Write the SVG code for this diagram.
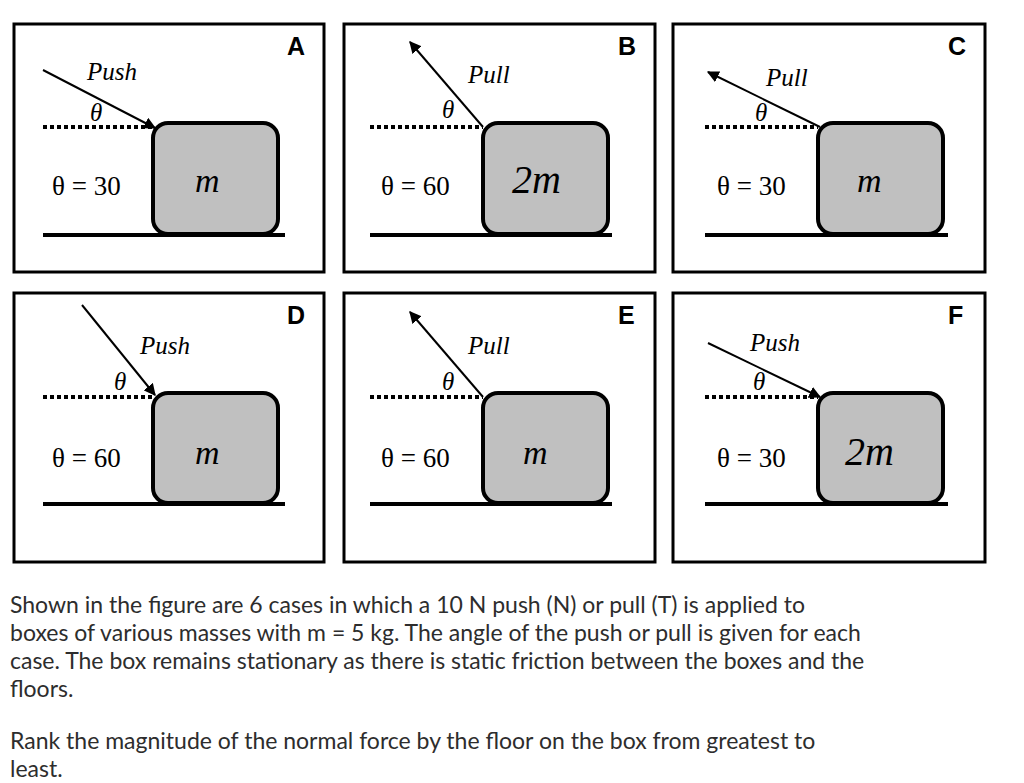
<svg xmlns="http://www.w3.org/2000/svg" width="1024" height="783" viewBox="0 0 1024 783">
<style>
.fr{fill:#fff;stroke:#000;stroke-width:3}
.bx{fill:#c0c0c0;stroke:#000;stroke-width:4}
.fl{stroke:#000;stroke-width:4}
.dt{stroke:#000;stroke-width:4;stroke-dasharray:4 3}
.ar{stroke:#000;stroke-width:2;marker-end:url(#ah)}
.m{font-family:"Liberation Serif",serif;font-style:italic;font-size:25px}
.big{font-size:34px}
.bg2{font-size:40px;font-style:italic}
.eq{font-family:"Liberation Serif",serif;font-size:27px}
.lt{font-family:"Liberation Sans",sans-serif;font-weight:bold;font-size:25px}
.tx{font-family:Lato,"Liberation Sans",sans-serif;font-size:23px;fill:#2d2d2d}
</style>
<defs><marker id="ah" viewBox="0 0 10 10" refX="9" refY="5" markerWidth="6" markerHeight="6" orient="auto"><path d="M0,0L10,5L0,10z"/></marker></defs>
<rect width="1024" height="783" fill="#fff"/>
<g id="panelA"><rect class="fr" x="14" y="24" width="310" height="248"/><rect class="bx" x="153" y="123" width="125" height="111" rx="15"/><line class="fl" x1="43" y1="235" x2="285" y2="235"/><line class="dt" x1="43" y1="127" x2="153" y2="127"/><text class="m" x="87" y="80">Push</text><text class="m" x="90" y="121">θ</text><text class="eq" x="52" y="195">θ = 30</text><text class="m big" x="195" y="192">m</text><text class="lt" x="287" y="55">A</text></g>
<g id="panelB"><rect class="fr" x="344" y="24" width="311" height="248"/><rect class="bx" x="483" y="123" width="125" height="111" rx="15"/><line class="fl" x1="370" y1="235" x2="612" y2="235"/><line class="dt" x1="370" y1="127" x2="483" y2="127"/><text class="m" x="468" y="83">Pull</text><text class="m" x="442" y="118">θ</text><text class="eq" x="381" y="195">θ = 60</text><text class="m bg2" x="512" y="193">2m</text><text class="lt" x="618" y="55">B</text></g>
<g id="panelC"><rect class="fr" x="673" y="24" width="312" height="248"/><rect class="bx" x="818" y="123" width="125" height="111" rx="15"/><line class="fl" x1="705" y1="235" x2="948" y2="235"/><line class="dt" x1="705" y1="127" x2="818" y2="127"/><text class="m" x="766" y="86">Pull</text><text class="m" x="755" y="121">θ</text><text class="eq" x="717" y="195">θ = 30</text><text class="m big" x="857" y="192">m</text><text class="lt" x="948" y="55">C</text></g>
<g id="panelD"><rect class="fr" x="14" y="293" width="310" height="269"/><rect class="bx" x="153" y="393" width="125" height="110" rx="15"/><line class="fl" x1="43" y1="504" x2="285" y2="504"/><line class="dt" x1="43" y1="397" x2="153" y2="397"/><text class="m" x="140" y="354">Push</text><text class="m" x="114" y="390">θ</text><text class="eq" x="52" y="467">θ = 60</text><text class="m big" x="195" y="464">m</text><text class="lt" x="287" y="324">D</text></g>
<g id="panelE"><rect class="fr" x="344" y="293" width="311" height="269"/><rect class="bx" x="483" y="393" width="125" height="110" rx="15"/><line class="fl" x1="370" y1="504" x2="612" y2="504"/><line class="dt" x1="370" y1="397" x2="483" y2="397"/><text class="m" x="468" y="354">Pull</text><text class="m" x="442" y="390">θ</text><text class="eq" x="381" y="467">θ = 60</text><text class="m big" x="523" y="464">m</text><text class="lt" x="618" y="324">E</text></g>
<g id="panelF"><rect class="fr" x="673" y="293" width="312" height="269"/><rect class="bx" x="818" y="393" width="125" height="110" rx="15"/><line class="fl" x1="705" y1="504" x2="948" y2="504"/><line class="dt" x1="705" y1="397" x2="818" y2="397"/><text class="m" x="750" y="351">Push</text><text class="m" x="753" y="390">θ</text><text class="eq" x="717" y="467">θ = 30</text><text class="m bg2" x="845" y="465">2m</text><text class="lt" x="948" y="324">F</text></g>
<g id="connectors">
<line class="ar" x1="43" y1="70" x2="155" y2="128"/>
<line class="ar" x1="483" y1="127" x2="410" y2="42"/>
<line class="ar" x1="820" y1="127" x2="708" y2="72"/>
<line class="ar" x1="82" y1="305" x2="155" y2="395"/>
<line class="ar" x1="483" y1="397" x2="410" y2="312"/>
<line class="ar" x1="708" y1="343" x2="820" y2="397"/>
</g>
<g class="tx">
<text x="10" y="613">Shown in the figure are 6 cases in which a 10 N push (N) or pull (T) is applied to</text>
<text x="10" y="641">boxes of various masses with m = 5 kg. The angle of the push or pull is given for each</text>
<text x="10" y="669">case. The box remains stationary as there is static friction between the boxes and the</text>
<text x="10" y="697">floors.</text>
<text x="10" y="749">Rank the magnitude of the normal force by the floor on the box from greatest to</text>
<text x="10" y="777">least.</text>
</g>
</svg>
